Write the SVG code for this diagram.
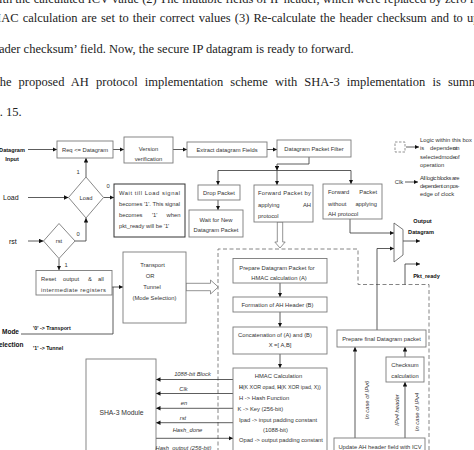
<svg xmlns="http://www.w3.org/2000/svg" width="474" height="450" viewBox="0 0 474 450">
<style>
.bx{fill:#fff;stroke:#7a7a7a;stroke-width:0.9}
.bk{fill:#fff;stroke:#333;stroke-width:1}
.t{font-family:"Liberation Sans",Arial,sans-serif;font-size:5.8px;fill:#333}
.m{text-anchor:middle}
.e{text-anchor:end}
.b{font-weight:bold;fill:#111}
.i{font-style:italic}
.c{fill:none;stroke:#333;stroke-width:0.8}
.d{fill:none;stroke:#777;stroke-width:0.9;stroke-dasharray:4 2.5}
.h{fill:#fff;stroke:#777;stroke-width:0.8}
.p{font-family:"Liberation Serif","Times New Roman",serif;font-size:12.5px;fill:#222}
</style>
<defs>
<marker id="ah" viewBox="0 0 8 8" refX="8" refY="4" markerWidth="4.5" markerHeight="4.5" markerUnits="userSpaceOnUse" orient="auto"><path d="M0,0 L8,4 L0,8 z" fill="#111"/></marker>
</defs>
<rect width="474" height="450" fill="#fff"/>
<g id="paragraph" class="p">
<text x="-10" y="3">with the calculated ICV value (2) The mutable fields of IP header, which were replaced by zero for</text>
<text x="-19" y="22" word-spacing="1">HMAC calculation are set to their correct values (3) Re-calculate the header checksum and to update</text>
<text x="-17" y="53">‘header checksum’ field. Now, the secure IP datagram is ready to forward.</text>
<text x="-8" y="86" word-spacing="4">The proposed AH protocol implementation scheme with SHA-3 implementation is summarized</text>
<text x="-17" y="116">Fig. 15.</text>
</g>

<g id="connectors">
<path class="c" d="M28,149.5 H57" marker-end="url(#ah)"/>
<path class="c" d="M113,149.5 H124" marker-end="url(#ah)"/>
<path class="c" d="M173,149.5 H187" marker-end="url(#ah)"/>
<path class="c" d="M267,149.5 H277" marker-end="url(#ah)"/>
<path class="c" d="M309,157 V164 H277 V170.5" marker-end="url(#ah)"/>
<path class="c" d="M218,170.5 H351"/>
<path class="c" d="M218,170.5 V185" marker-end="url(#ah)"/>
<path class="c" d="M277,170.5 V185" marker-end="url(#ah)"/>
<path class="c" d="M351,170.5 V184" marker-end="url(#ah)"/>
<path class="c" d="M218,200 V210" marker-end="url(#ah)"/>
<path class="c" d="M28,197.5 H68.5" marker-end="url(#ah)"/>
<path class="c" d="M86,177 V158" marker-end="url(#ah)"/>
<path class="c" d="M103.5,197.5 H114" marker-end="url(#ah)"/>
<path class="c" d="M28,241 H43.5" marker-end="url(#ah)"/>
<path class="c" d="M75,241 H86 V218" marker-end="url(#ah)"/>
<path class="c" d="M59,258.5 V270" marker-end="url(#ah)"/>
<path class="c" d="M112,287 H123" marker-end="url(#ah)"/>
<path class="c" d="M21,334 H113 V287"/>
<polygon class="h" points="186,283.3 210.5,283.3 210.5,280 218.3,287 210.5,294 210.5,290.7 186,290.7"/>
<polygon class="h" points="277.3,222 277.3,242 274.8,242 280,248 285.2,242 282.7,242 282.7,222"/>
<path class="d" d="M218,452 V249 H358 V284.5 H429 V452"/>
<path class="c" d="M280,283 V297" marker-end="url(#ah)"/>
<path class="c" d="M280,312 V327" marker-end="url(#ah)"/>
<path class="c" d="M280,354 V368" marker-end="url(#ah)"/>
<path class="c" d="M233,379.5 H156" marker-end="url(#ah)"/>
<path class="c" d="M233,393.5 H156" marker-end="url(#ah)"/>
<path class="c" d="M233,408.3 H156" marker-end="url(#ah)"/>
<path class="c" d="M233,422.7 H156" stroke-width="1.1" marker-end="url(#ah)"/>
<path class="c" d="M156,438.3 H233" marker-end="url(#ah)"/>
<path class="c" d="M350,219 V233 H394" marker-end="url(#ah)"/>
<path class="c" d="M377,330 V248.5 H394" marker-end="url(#ah)"/>
<path class="c" d="M403,241 H420" marker-end="url(#ah)"/>
<path class="c" d="M405,284.5 V264 H420" marker-end="url(#ah)"/>
<path class="c" d="M405,357 V347" marker-end="url(#ah)"/>
<path class="c" d="M355,438 V347" marker-end="url(#ah)"/>
<path class="c" d="M405,438 V382" marker-end="url(#ah)"/>
<path class="c" d="M406,147 H419" marker-end="url(#ah)"/>
<path class="c" d="M405,182 H418" marker-end="url(#ah)"/>
</g>

<g id="datagram-input" class="t b"><text class="m" x="12" y="151.5" font-size="5.6">Datagram</text><text class="m" x="12" y="160.5" font-size="5.6">Input</text></g>
<g id="load-input" class="t"><text x="3" y="200" font-size="7" fill="#111">Load</text></g>
<g id="rst-input" class="t"><text x="9" y="243.5" font-size="7" fill="#111">rst</text></g>
<g id="mode-input" class="t b"><text x="2" y="333.5" font-size="6.5">Mode</text><text class="e" x="23.5" y="347" font-size="6.5">Selection</text>
<text x="33" y="329.5" font-size="5.3">'0' -&gt; Transport</text><text x="33" y="349.5" font-size="5.3">'1' -&gt; Tunnel</text></g>

<g id="req" class="t"><rect class="bx" x="57" y="141" width="56" height="17"/><text class="m" x="85" y="151.5">Req &lt;= Datagram</text></g>
<g id="version" class="t"><rect class="bx" x="124" y="137" width="49" height="26"/><text class="m" x="148.5" y="150.5">Version</text><text class="m" x="148.5" y="160.5">verification</text></g>
<g id="extract" class="t"><rect class="bx" x="187" y="142" width="80" height="15"/><text class="m" x="227" y="151.5">Extract datagram Fields</text></g>
<g id="filter" class="t"><rect class="bx" x="277" y="140" width="74" height="17"/><text class="m" x="314" y="150.5">Datagram Packet Filter</text></g>

<g id="load" class="t"><polygon class="bx" points="86,177 103.5,197.5 86,218 68.5,197.5"/><text class="m" x="86" y="199.5">Load</text>
<text x="76.5" y="174">1</text><text x="106.5" y="188">0</text></g>
<g id="wait-load" class="t"><rect class="bk" x="114" y="184" width="71" height="53"/>
<text x="119" y="195" textLength="61" lengthAdjust="spacing">Wait till Load signal</text>
<text x="119" y="205.5" textLength="61" lengthAdjust="spacing">becomes '1'. This signal</text>
<text y="217"><tspan x="119">becomes</tspan><tspan x="152">'1'</tspan><tspan x="166.5">when</tspan></text>
<text x="119" y="228">pkt_ready will be '1'</text></g>
<g id="rst" class="t"><polygon class="bx" points="59,223.5 75,241 59,258.5 43.5,241"/><text class="m" x="59" y="243">rst</text>
<text x="76.5" y="235.5">0</text><text x="64.5" y="267">1</text></g>
<g id="reset" class="t"><rect class="bx" x="36" y="270.5" width="76" height="24.5"/>
<text y="281"><tspan x="41">Reset</tspan><tspan x="63">output</tspan><tspan x="88">&amp;</tspan><tspan x="98">all</tspan></text>
<text x="41" y="291.5" textLength="65" lengthAdjust="spacing">intermediate registers</text></g>
<g id="mode" class="t"><rect class="bx" x="123" y="252" width="63" height="71"/>
<text class="m" x="152.5" y="267">Transport</text><text class="m" x="150" y="278">OR</text><text class="m" x="152" y="289">Tunnel</text><text class="m" x="154.5" y="299.5">(Mode Selection)</text></g>

<g id="drop" class="t"><rect class="bx" x="198" y="185" width="42" height="15"/><text class="m" x="219" y="194.5">Drop Packet</text></g>
<g id="wait-new" class="t"><rect class="bx" x="189" y="210" width="54" height="27"/><text class="m" x="216" y="221.5">Wait for New</text><text class="m" x="216" y="231.5">Datagram Packet</text></g>
<g id="forward-ah" class="t"><rect class="bx" x="254" y="185" width="59" height="37"/>
<text x="258" y="195" textLength="53" lengthAdjust="spacing">Forward Packet by</text>
<text y="206.5"><tspan x="258">applying</tspan><tspan class="e" x="311">AH</tspan></text>
<text x="258" y="217.5">protocol</text></g>
<g id="forward-no" class="t"><rect class="bx" x="323" y="184" width="59" height="35"/>
<text y="194"><tspan x="328">Forward</tspan><tspan class="e" x="377">Packet</tspan></text>
<text y="205.5"><tspan x="328">without</tspan><tspan class="e" x="377">applying</tspan></text>
<text x="328" y="216">AH protocol</text></g>

<g id="mux"><polygon points="394,223 403,229.5 403,255 394,262" fill="#fff" stroke="#555" stroke-width="0.8"/></g>
<g id="output" class="t b"><text class="m" x="422.5" y="223" font-size="5.6">Output</text><text class="m" x="421" y="234" font-size="5.6">Datagram</text></g>
<g id="pkt-ready" class="t b"><text class="m" x="426.5" y="278" font-size="5.6">Pkt_ready</text></g>

<g id="prepare-hmac" class="t"><rect class="bx" x="233" y="258.5" width="94" height="24.5"/><text class="m" x="277" y="269.5">Prepare Datagram Packet for</text><text class="m" x="279" y="279.5">HMAC calculation  (A)</text></g>
<g id="formation" class="t"><rect class="bx" x="233" y="297" width="94" height="15"/><text class="m" x="277.5" y="307">Formation of AH Header (B)</text></g>
<g id="concat" class="t"><rect class="bx" x="233" y="327" width="94" height="27"/><text class="m" x="275" y="337">Concatenation of (A) and (B)</text><text class="m" x="280" y="347">X =[ A,B]</text></g>
<g id="hmac" class="t"><rect class="bx" x="233" y="368" width="94" height="90"/>
<text class="m" x="278.5" y="378">HMAC Calculation</text>
<text x="239" y="389" font-size="5.3"><tspan font-weight="bold">H</tspan>(K XOR opad, <tspan font-weight="bold">H</tspan>(K XOR ipad, X))</text>
<text x="239" y="399.5">H -&gt; Hash Function</text>
<text x="237.5" y="410.5">K -&gt; Key (256-bit)</text>
<text x="239" y="421.5">Ipad -&gt; input padding constant</text>
<text class="m" x="275.5" y="432">(1088-bit)</text>
<text x="239" y="442" font-size="5.75">Opad -&gt; output padding constant</text></g>

<g id="sha3" class="t"><rect class="bx" x="86" y="359" width="70" height="100"/><text class="m" x="121.5" y="415" font-size="6.8">SHA-3 Module</text></g>
<g id="signals" class="t i" font-size="5.3">
<text class="m" x="192.5" y="375.5">1088-bit Block</text>
<text class="m" x="183.5" y="390.5">Clk</text>
<text class="m" x="184" y="405">en</text>
<text class="m" x="183" y="419.5">rst</text>
<text class="m" x="187.5" y="432">Hash_done</text>
<text class="m" x="183.5" y="449.5">Hash_output (256-bit)</text>
</g>

<g id="final" class="t"><rect class="bx" x="337" y="330" width="89" height="17"/><text class="m" x="381.5" y="341">Prepare final Datagram packet</text></g>
<g id="checksum" class="t"><rect class="bx" x="386" y="357" width="38" height="25"/><text class="m" x="405" y="367">Checksum</text><text class="m" x="405" y="378">calculation</text></g>
<g id="update" class="t"><rect class="bx" x="334" y="438" width="91" height="20"/><text class="m" x="380" y="449">Update AH header field with ICV</text></g>
<g id="path-labels" class="t i" font-size="5.5">
<text class="m" transform="translate(369,400) rotate(-90)">In case of IPv6</text>
<text class="m" transform="translate(399,410) rotate(-90)">IPv4 header</text>
<text class="m" transform="translate(419,412) rotate(-90)">In case of IPv4</text>
</g>

<g id="legend" class="t" font-size="4.3">
<rect x="395" y="142" width="10" height="10" fill="none" stroke="#666" stroke-width="0.7" stroke-dasharray="2.5 1.5"/>
<text x="420" y="142">Logic within this box</text>
<text y="150"><tspan x="420">is</tspan><tspan x="430">dependent</tspan><tspan class="e" x="459.5">on</tspan></text>
<text y="158.5"><tspan x="420">selected</tspan><tspan x="441.5">mode</tspan><tspan class="e" x="459.5">of</tspan></text>
<text x="420" y="166.5">operation</text>
<text class="m" x="399" y="183.5">Clk</text>
<text x="420" y="180" textLength="39.5" lengthAdjust="spacing">All logic blocks are</text>
<text x="420" y="187.5" textLength="39.5" lengthAdjust="spacing">dependent on pos-</text>
<text x="420" y="195.5">edge of clock</text>
</g>
</svg>
